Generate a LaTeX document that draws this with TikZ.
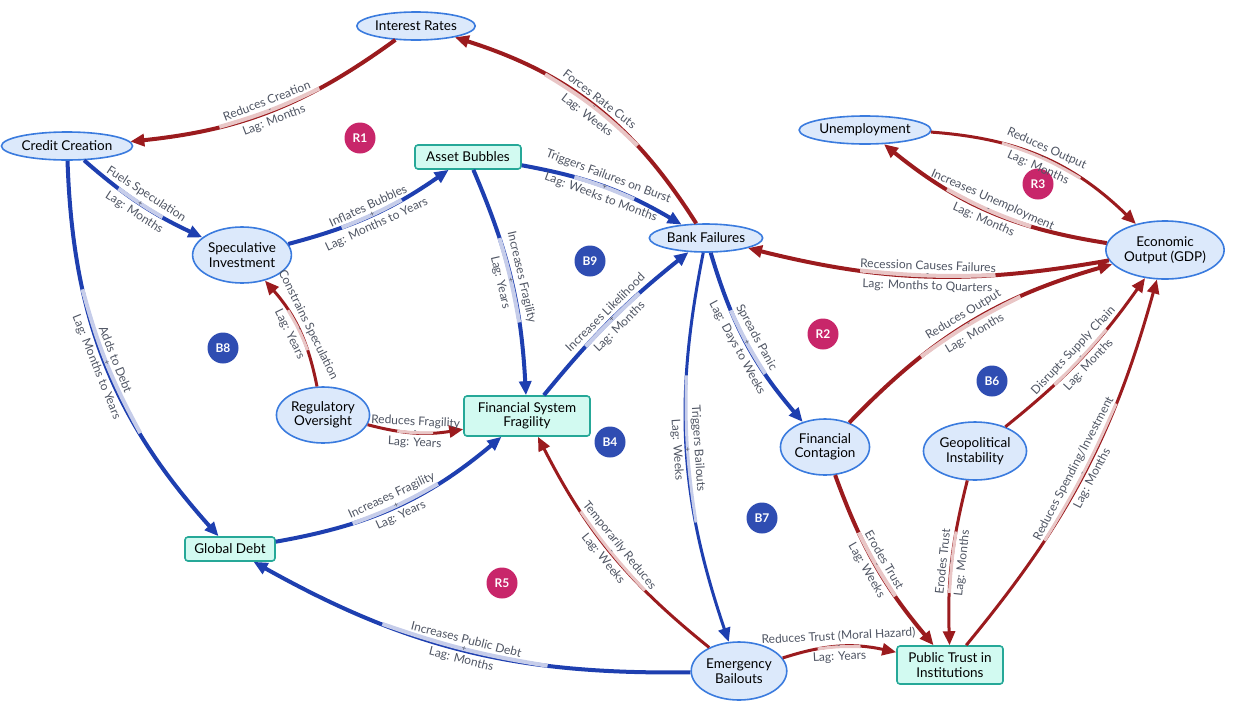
\documentclass[tikz,border=0pt]{standalone}
\usepackage{fontspec}
\setmainfont{Lato}
\usetikzlibrary{arrows.meta,shapes.geometric}
\definecolor{negdark}{HTML}{9B1B1E}
\definecolor{neglight}{HTML}{E9C6C6}
\definecolor{posdark}{HTML}{1E3FB0}
\definecolor{poslight}{HTML}{C6CDEA}
\definecolor{varfill}{HTML}{DCE9FB}
\definecolor{varline}{HTML}{3A7BDE}
\definecolor{stockfill}{HTML}{D2FAF1}
\definecolor{stockline}{HTML}{26A898}
\definecolor{rloop}{HTML}{C8266A}
\definecolor{bloop}{HTML}{2F4DB2}
\definecolor{labeltext}{HTML}{4F5563}
\tikzset{
  var/.style={ellipse, draw=varline, fill=varfill, line width=1.6pt, inner sep=1pt,
    font=\fontsize{13.5}{14.5}\selectfont, align=center},
  stock/.style={rectangle, rounded corners=3pt, draw=stockline, fill=stockfill, line width=1.6pt,
    inner sep=3pt, font=\fontsize{13.5}{14.5}\selectfont, align=center},
  loop/.style={circle, minimum size=31pt, inner sep=0pt, text=white,
    font=\bfseries\fontsize{12}{12}\selectfont},
  wide/.style={line width=4pt},
  slim/.style={line width=3pt},
  plus/.style={draw=posdark, -{Triangle[length=14pt,width=12pt]}},
  minus/.style={draw=negdark, -{Triangle[length=14pt,width=12pt]}},
  plus seg/.style={draw=poslight},
  minus seg/.style={draw=neglight},
  lbl/.style={text=labeltext, font=\fontsize{12}{13}\selectfont, inner sep=0pt, sloped, pos=0.5},
  sgn/.style={text=labeltext, font=\fontsize{8}{8}\selectfont, inner sep=0pt, sloped, pos=0.5},
}
\def\plussign{+}
\def\minussign{-}
% #1 plus/minus, #2 width, #3 from, #4 to, #5 left/right, #6 bend, #7 text, #8 lag
\newcommand{\causal}[8]{%
  \pgfmathsetmacro\subbend{#6/3}%
  \draw[#1, #2] (#3) to[bend #5=#6] coordinate[pos=0.3] (s) coordinate[pos=0.7] (e) (#4);
  \draw[#1 seg, #2] (s) to[bend #5=\subbend]
    node[lbl,above=3.5pt]{#7} node[sgn]{\csname #1sign\endcsname} node[lbl,below=3.5pt]{#8} (e);}
\begin{document}
\begin{tikzpicture}[x=1pt,y=1pt]
  \useasboundingbox (0,0) rectangle (1234,-710);

  % Variables
  \node[var, minimum width=108pt, minimum height=28pt] (rates) at (416,-26) {Interest Rates};
  \node[var, minimum width=112pt, minimum height=28pt] (credit) at (67,-146) {Credit Creation};
  \node[stock, minimum width=106pt, minimum height=24pt] (bubbles) at (468,-157) {Asset Bubbles};
  \node[var, minimum width=92pt, minimum height=56pt] (spec) at (242,-255) {Speculative\\Investment};
  \node[var, minimum width=100pt, minimum height=28pt] (banks) at (706,-238) {Bank Failures};
  \node[var, minimum width=96pt, minimum height=28pt] (unemp) at (865,-130) {Unemployment};
  \node[var, minimum width=100pt, minimum height=58pt] (gdp) at (1165,-250) {Economic\\Output (GDP)};
  \node[var, minimum width=86pt, minimum height=56pt] (reg) at (323,-415) {Regulatory\\Oversight};
  \node[stock, minimum width=126pt, minimum height=40pt] (fragility) at (527,-416) {Financial System\\Fragility};
  \node[var, minimum width=82pt, minimum height=56pt] (contagion) at (825,-447) {Financial\\Contagion};
  \node[var, minimum width=90pt, minimum height=58pt] (geo) at (975,-451) {Geopolitical\\Instability};
  \node[stock, minimum width=90pt, minimum height=24pt] (debt) at (230,-549) {Global Debt};
  \node[var, minimum width=88pt, minimum height=58pt] (bailouts) at (739,-671) {Emergency\\Bailouts};
  \node[stock, minimum width=106pt, minimum height=38pt] (trust) at (950,-665) {Public Trust in\\Institutions};

  % Loop markers
  \node[loop, fill=rloop] (r1) at (360,-138) {R1};
  \node[loop, fill=rloop] (r2) at (823,-334) {R2};
  \node[loop, fill=rloop] (r3) at (1038,-184) {R3};
  \node[loop, fill=rloop] (r5) at (502,-583) {R5};
  \node[loop, fill=bloop] (b4) at (610,-442) {B4};
  \node[loop, fill=bloop] (b6) at (992,-381) {B6};
  \node[loop, fill=bloop] (b7) at (762,-518) {B7};
  \node[loop, fill=bloop] (b8) at (223,-348) {B8};
  \node[loop, fill=bloop] (b9) at (590,-261) {B9};

  % Links
  \causal{minus}{wide}{rates}{credit}{left}{15}{Reduces Creation}{Lag: Months}
  \causal{minus}{wide}{banks}{rates}{right}{20}{Forces Rate Cuts}{Lag: Weeks}
  \causal{plus}{wide}{credit}{spec}{right}{8}{Fuels Speculation}{Lag: Months}
  \causal{plus}{wide}{spec}{bubbles}{right}{10}{Inflates Bubbles}{Lag: Months to Years}
  \causal{plus}{wide}{bubbles}{banks}{left}{10}{Triggers Failures on Burst}{Lag: Weeks to Months}
  \causal{plus}{wide}{bubbles}{fragility}{left}{10}{Increases Fragility}{Lag: Years}
  \causal{plus}{wide}{credit}{debt}{right}{20}{Adds to Debt}{Lag: Months to Years}
  \causal{minus}{slim}{reg}{spec}{right}{15}{Constrains Speculation}{Lag: Years}
  \causal{minus}{slim}{reg}{fragility}{right}{12}{Reduces Fragility}{Lag: Years}
  \causal{plus}{wide}{debt}{fragility}{right}{15}{Increases Fragility}{Lag: Years}
  \causal{plus}{wide}{fragility}{banks}{left}{6}{Increases Likelihood}{Lag: Months}
  \causal{plus}{slim}{banks}{bailouts}{right}{15}{Triggers Bailouts}{Lag: Weeks}
  \causal{plus}{wide}{banks}{contagion}{right}{12}{Spreads Panic}{Lag: Days to Weeks}
  \causal{minus}{slim}{bailouts}{fragility}{left}{12}{Temporarily Reduces}{Lag: Weeks}
  \causal{plus}{wide}{bailouts}{debt}{left}{15}{Increases Public Debt}{Lag: Months}
  \causal{minus}{slim}{bailouts}{trust}{left}{15}{Reduces Trust (Moral Hazard)}{Lag: Years}
  \causal{minus}{wide}{contagion}{trust}{right}{10}{Erodes Trust}{Lag: Weeks}
  \causal{minus}{slim}{geo}{trust}{right}{8}{Erodes Trust}{Lag: Months}
  \causal{minus}{slim}{trust}{gdp}{right}{12}{Reduces Spending/Investment}{Lag: Months}
  \causal{minus}{slim}{geo}{gdp}{right}{8}{Disrupts Supply Chain}{Lag: Months}
  \causal{minus}{wide}{contagion}{gdp}{left}{15}{Reduces Output}{Lag: Months}
  \causal{minus}{wide}{gdp}{banks}{left}{12}{Recession Causes Failures}{Lag: Months to Quarters}
  \causal{minus}{slim}{unemp}{gdp}{left}{20}{Reduces Output}{Lag: Months}
  \causal{minus}{wide}{gdp}{unemp}{left}{15}{Increases Unemployment}{Lag: Months}
\end{tikzpicture}
\end{document}
